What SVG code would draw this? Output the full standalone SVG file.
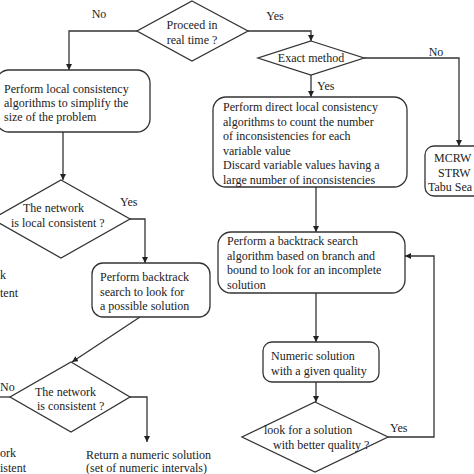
<svg xmlns="http://www.w3.org/2000/svg" width="474" height="474" viewBox="0 0 474 474">
<style>
.s{fill:#fff;stroke:#333;stroke-width:1.3}
.c{fill:none;stroke:#333;stroke-width:1.3}
text{font-family:"Liberation Serif","Times New Roman",serif;font-size:12px;fill:#222}
.m{text-anchor:middle}
.e{text-anchor:end}
</style>
<defs>
<marker id="a" viewBox="0 0 10 10" refX="10" refY="5" markerWidth="6" markerHeight="6" orient="auto" markerUnits="userSpaceOnUse">
<path d="M0,0 L10,5 L0,10 z" fill="#222"/>
</marker>
</defs>
<rect width="474" height="474" fill="#fff"/>
<g id="connectors">
<polyline class="c" points="137,31 69,31 69,70" marker-end="url(#a)"/>
<polyline class="c" points="248,31 311,31 311,41" marker-end="url(#a)"/>
<polyline class="c" points="364,58 459,58 459,146" marker-end="url(#a)"/>
<polyline class="c" points="311,75 311,97" marker-end="url(#a)"/>
<polyline class="c" points="316,187 316,232" marker-end="url(#a)"/>
<polyline class="c" points="316,293 316,342" marker-end="url(#a)"/>
<polyline class="c" points="316,382 316,402" marker-end="url(#a)"/>
<polyline class="c" points="388,437 434,437 434,256 405,256" marker-end="url(#a)"/>
<polyline class="c" points="63,132 63,180" marker-end="url(#a)"/>
<polyline class="c" points="130,219 145,219 145,263" marker-end="url(#a)"/>
<polyline class="c" points="140,317 72,362" marker-end="url(#a)"/>
<polyline class="c" points="10,397 -2,397"/>
<polyline class="c" points="130,397 147,397 147,442" marker-end="url(#a)"/>
<text x="99" y="18" class="m">No</text>
<text x="275" y="20" class="m">Yes</text>
<text x="436" y="56" class="m">No</text>
<text x="317" y="90">Yes</text>
<text x="390" y="432">Yes</text>
<text x="120" y="206">Yes</text>
<text x="0" y="391">No</text>
</g>
<g id="proceed">
<polygon class="s" points="192,1 248,31 192,61 137,31"/>
<text x="192" y="29" class="m">Proceed in</text>
<text x="192" y="44" class="m">real time ?</text>
</g>
<g id="exact">
<polygon class="s" points="311,41 364,58 311,75 258,58"/>
<text x="311" y="62" class="m">Exact method</text>
</g>
<g id="meta">
<rect class="s" x="425" y="146" width="100" height="50" rx="9"/>
<text x="434" y="162">MCRW</text>
<text x="438" y="177">STRW</text>
<text x="428" y="191">Tabu Sea</text>
</g>
<g id="direct">
<rect class="s" x="213" y="97" width="194" height="90" rx="13"/>
<text x="223" y="111">Perform direct local consistency</text>
<text x="223" y="125.5">algorithms to count the number</text>
<text x="223" y="140">of inconsistencies for each</text>
<text x="223" y="154.5">variable value</text>
<text x="223" y="169">Discard variable values having a</text>
<text x="223" y="183.5">large number of inconsistencies</text>
</g>
<g id="bnb">
<rect class="s" x="218" y="232" width="187" height="61" rx="13"/>
<text x="227" y="245">Perform a backtrack search</text>
<text x="227" y="259.5">algorithm based on branch and</text>
<text x="227" y="274">bound to look for an incomplete</text>
<text x="227" y="288.5">solution</text>
</g>
<g id="numeric">
<rect class="s" x="263" y="342" width="116" height="40" rx="9"/>
<text x="271" y="360">Numeric solution</text>
<text x="271" y="375">with a given quality</text>
</g>
<g id="better">
<polygon class="s" points="315,402 388,437 315,472 242,437"/>
<text x="264" y="434">look for a solution</text>
<text x="273" y="449">with better quality ?</text>
</g>
<g id="local">
<rect class="s" x="-4" y="70" width="154" height="62" rx="13"/>
<text x="4" y="93">Perform local consistency</text>
<text x="4" y="107">algorithms to simplify the</text>
<text x="4" y="121">size of the problem</text>
</g>
<g id="localq">
<polygon class="s" points="61,180 130,219 61,258 -8,219"/>
<text x="23" y="212">The network</text>
<text x="11" y="227">is local consistent ?</text>
</g>
<g id="left1">
<text x="0" y="279">k</text>
<text x="0" y="297">tent</text>
</g>
<g id="backtrack">
<rect class="s" x="92" y="263" width="118" height="54" rx="11"/>
<text x="100" y="281">Perform backtrack</text>
<text x="100" y="296">search to look for</text>
<text x="100" y="310">a possible solution</text>
</g>
<g id="consq">
<polygon class="s" points="71,362 130,397 71,432 10,397"/>
<text x="35" y="396">The network</text>
<text x="37" y="410">is consistent ?</text>
</g>
<g id="return">
<text x="86" y="459">Return a numeric solution</text>
<text x="86" y="472">(set of numeric intervals)</text>
</g>
<g id="left2">
<text x="0" y="457">ork</text>
<text x="0" y="472">istent</text>
</g>
</svg>
